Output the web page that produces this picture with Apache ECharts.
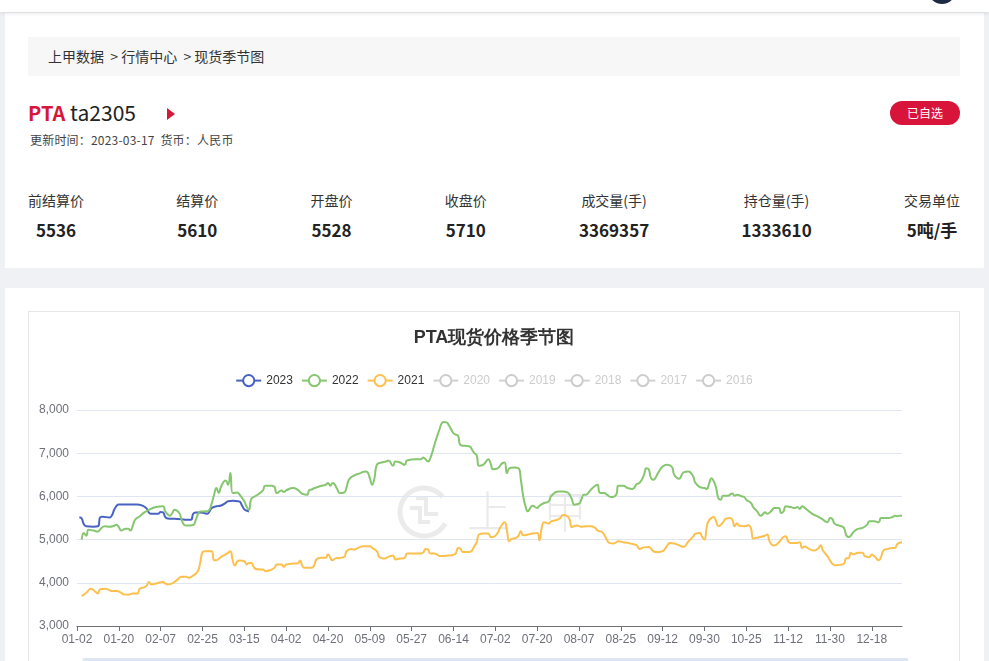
<!DOCTYPE html>
<html>
<head>
<meta charset="utf-8">
<script src="https://cdn.jsdelivr.net/npm/echarts@6/dist/echarts.min.js"></script>
<style>
  html, body { margin: 0; padding: 0; }
  body {
    width: 989px; height: 661px; overflow: hidden; position: relative;
    background: #f0f1f5; font-family: "Noto Sans CJK SC", "Noto Sans", sans-serif; color: #333;
  }
  .topbar { position: absolute; left: 0; top: 0; width: 989px; height: 12px; background: #fff; box-shadow: 0 1px 4px rgba(0,0,0,0.12); z-index: 2; overflow: hidden; }
  .avatar { position: absolute; left: 928px; top: -24px; width: 28px; height: 28px; border-radius: 50%; background: #1d2a44; }
  .card { position: absolute; left: 5px; width: 979px; background: #fff; }
  .card1 { top: 13px; height: 255px; }
  .card2 { top: 288px; height: 400px; }
  .crumb { position: absolute; left: 23px; top: 24px; width: 932px; height: 39px; background: #f7f7f7; font-size: 14px; line-height: 39px; color: #333; }
  .crumb span { margin-left: 20px; }
  .name { position: absolute; left: 23px; top: 85px; font-size: 21px; line-height: 28px; color: #222; }
  .name b { color: #d6173a; font-weight: 700; font-size: 20px; }
  .tri { position: absolute; left: 162px; top: 95px; width: 0; height: 0; border-top: 6px solid transparent; border-bottom: 6px solid transparent; border-left: 8px solid #d6173a; }
  .btn { position: absolute; left: 885px; top: 88px; width: 70px; height: 24px; border-radius: 12px; background: #d9143b; color: #fff; font-size: 12px; line-height: 24px; text-align: center; }
  .upd { position: absolute; left: 25px; top: 118px; font-size: 12px; color: #444; line-height: 18px; letter-spacing: 0.2px; }
  .stats { position: absolute; left: 23px; top: 177px; width: 932px; display: flex; justify-content: space-between; }
  .stat { text-align: center; }
  .stat .l { font-size: 14px; color: #333; line-height: 20px; }
  .stat .v { font-size: 17px; font-weight: 700; color: #222; line-height: 22px; margin-top: 9px; }
  .box { position: absolute; left: 23px; top: 23px; width: 930px; height: 400px; border: 1px solid #e6e6e6; }
  #chart { position: absolute; left: 0; top: 0; width: 930px; height: 400px; }
</style>
</head>
<body>
<div class="topbar"><div class="avatar"></div></div>
<div class="card card1">
  <div class="crumb"><span>上甲数据 &nbsp;&gt; 行情中心 &nbsp;&gt; 现货季节图</span></div>
  <div class="name"><b>PTA</b> ta2305</div>
  <div class="tri"></div>
  <div class="btn">已自选</div>
  <div class="upd">更新时间：2023-03-17 &nbsp;货币：人民币</div>
  <div class="stats">
    <div class="stat"><div class="l">前结算价</div><div class="v">5536</div></div>
    <div class="stat"><div class="l">结算价</div><div class="v">5610</div></div>
    <div class="stat"><div class="l">开盘价</div><div class="v">5528</div></div>
    <div class="stat"><div class="l">收盘价</div><div class="v">5710</div></div>
    <div class="stat"><div class="l">成交量(手)</div><div class="v">3369357</div></div>
    <div class="stat"><div class="l">持仓量(手)</div><div class="v">1333610</div></div>
    <div class="stat"><div class="l">交易单位</div><div class="v">5吨/手</div></div>
  </div>
</div>
<div class="card card2">
  <div class="box"><div id="chart"></div></div>
</div>

<script>
// x axis: calendar days (MM-DD), without the days that no year traded on
const monthDays = [31, 28, 31, 30, 31, 30, 31, 31, 30, 31, 30, 31]
const skipDays = ['01-01', '05-01', '10-01', '10-02', '10-03', '10-04', '10-05', '10-06', '10-07']
const categories = []
monthDays.forEach((n, m) => {
  for (let d = 1; d <= n; d++) {
    const s = String(m + 1).padStart(2, '0') + '-' + String(d).padStart(2, '0')
    if (!skipDays.includes(s)) categories.push(s)
  }
})

const years = ['2023', '2022', '2021', '2020', '2019', '2018', '2017', '2016']
const hiddenYears = ['2020', '2019', '2018', '2017', '2016']

const dates2023 = ['01-03','01-04','01-05','01-06','01-09','01-11','01-12','01-13','01-16','01-17','01-18','01-19','01-20','01-28','01-30','01-31','02-01','02-02','02-03','02-06','02-07','02-08','02-09','02-10','02-13','02-16','02-18','02-20','02-21','02-22','02-24','02-26','02-27','03-01','03-03','03-05','03-07','03-08','03-10','03-12','03-13','03-14','03-15','03-16','03-17']
const vals2023 = [5520,5490,5350,5310,5300,5310,5520,5530,5510,5560,5690,5780,5810,5810,5790,5760,5720,5620,5600,5600,5640,5630,5520,5490,5480,5470,5460,5460,5600,5630,5630,5610,5600,5730,5770,5790,5850,5890,5900,5890,5880,5790,5700,5670,5650]

const dates2022 = ['01-04','01-05','01-06','01-07','01-09','01-11','01-12','01-14','01-16','01-18','01-19','01-20','01-21','01-23','01-24','01-25','01-26','01-27','01-29','01-31','02-03','02-05','02-08','02-09','02-11','02-12','02-13','02-15','02-16','02-17','02-18','02-21','02-22','02-23','02-24','02-27','02-28','03-01','03-02','03-03','03-04','03-05','03-07','03-08','03-09','03-10','03-12','03-13','03-15','03-16','03-17','03-18','03-20','03-21','03-23','03-24','03-27','03-28','03-29','03-31','04-01','04-02','04-05','04-07','04-09','04-11','04-12','04-13','04-14','04-17','04-19','04-20','04-21','04-22','04-24','04-25','04-27','04-28','04-29','05-02','05-05','05-07','05-08','05-09','05-10','05-11','05-12','05-14','05-16','05-17','05-19','05-20','05-22','05-24','05-25','05-29','05-31','06-01','06-03','06-04','06-06','06-07','06-08','06-09','06-10','06-11','06-12','06-14','06-15','06-16','06-17','06-19','06-21','06-22','06-23','06-24','06-25','06-27','06-29','06-30','07-01','07-03','07-05','07-06','07-07','07-08','07-10','07-12','07-13','07-14','07-15','07-16','07-17','07-18','07-20','07-21','07-23','07-25','07-26','07-29','07-31','08-02','08-03','08-04','08-05','08-07','08-08','08-09','08-10','08-12','08-14','08-15','08-16','08-18','08-19','08-21','08-23','08-24','08-26','08-28','08-30','09-01','09-02','09-04','09-05','09-06','09-07','09-08','09-10','09-12','09-14','09-16','09-17','09-19','09-21','09-23','09-25','09-26','09-28','09-30','10-08','10-09','10-10','10-11','10-12','10-13','10-14','10-15','10-17','10-19','10-20','10-21','10-23','10-24','10-25','10-27','10-28','10-30','10-31','11-01','11-02','11-03','11-05','11-06','11-08','11-09','11-10','11-11','11-13','11-15','11-16','11-17','11-18','11-19','11-21','11-23','11-24','11-27','11-28','11-29','11-30','12-01','12-02','12-04','12-06','12-07','12-08','12-09','12-10','12-12','12-14','12-16','12-17','12-19','12-21','12-22','12-25','12-27','12-28','12-29','12-30','12-31']
const vals2022 = [5000,5150,5090,5230,5210,5185,5240,5310,5295,5320,5345,5290,5210,5250,5250,5210,5320,5460,5540,5630,5716,5754,5770,5650,5554,5616,5693,5616,5462,5347,5325,5340,5440,5580,5650,5654,5690,5847,6039,6193,6077,6231,6370,6270,6540,6077,6090,6040,5885,5760,5693,5939,6016,6050,6139,6247,6247,6220,6077,6139,6100,6139,6193,6150,6060,6039,6150,6160,6190,6240,6270,6308,6247,6308,6170,6077,6090,6216,6385,6477,6540,6577,6560,6423,6270,6423,6731,6785,6808,6831,6708,6808,6785,6731,6831,6862,6862,6900,6808,6880,7231,7400,7550,7700,7723,7715,7650,7462,7430,7400,7192,7170,7155,7080,7000,6950,6708,6740,6862,6760,6630,6650,6770,6785,6539,6650,6670,6650,6385,6000,5770,5654,5730,5785,5730,5785,5847,5885,6000,6116,6116,6093,6039,5924,5808,5830,5924,6039,6039,6150,6247,6270,6085,6077,6039,5985,6039,6247,6247,6193,6170,6293,6308,6500,6654,6630,6423,6385,6540,6692,6731,6680,6500,6408,6554,6577,6477,6320,6216,6193,6170,6300,6420,6350,6200,5960,5924,6016,6016,6070,6016,6039,6000,5990,5924,5847,5754,5631,5554,5577,5631,5600,5677,5731,5731,5616,5650,5770,5754,5731,5754,5708,5770,5740,5654,5577,5554,5462,5424,5400,5500,5480,5370,5324,5270,5100,5062,5090,5170,5247,5270,5347,5424,5424,5400,5500,5500,5524,5554,5540,5554,5550]

const dates2021 = ['01-04','01-06','01-08','01-10','01-11','01-12','01-14','01-16','01-17','01-19','01-21','01-22','01-24','01-26','01-28','01-29','01-31','02-01','02-02','02-03','02-05','02-08','02-09','02-10','02-12','02-14','02-16','02-18','02-19','02-21','02-23','02-24','02-25','02-26','02-28','03-01','03-02','03-03','03-05','03-08','03-09','03-10','03-11','03-12','03-13','03-15','03-16','03-17','03-18','03-19','03-20','03-22','03-23','03-24','03-26','03-28','03-29','03-31','04-01','04-02','04-04','04-07','04-08','04-09','04-10','04-13','04-14','04-15','04-17','04-19','04-20','04-22','04-23','04-25','04-27','04-28','04-30','05-02','05-04','05-06','05-09','05-10','05-12','05-13','05-14','05-15','05-17','05-19','05-20','05-22','05-24','05-25','05-27','05-29','05-31','06-01','06-02','06-03','06-04','06-06','06-08','06-10','06-12','06-14','06-15','06-16','06-17','06-18','06-21','06-23','06-24','06-25','06-27','06-29','06-30','07-01','07-03','07-04','07-06','07-07','07-08','07-09','07-11','07-12','07-13','07-14','07-16','07-18','07-20','07-21','07-22','07-23','07-25','07-26','07-28','07-30','07-31','08-02','08-03','08-04','08-06','08-08','08-10','08-12','08-14','08-15','08-17','08-18','08-19','08-20','08-22','08-24','08-26','08-28','08-31','09-01','09-02','09-04','09-06','09-08','09-10','09-12','09-14','09-15','09-17','09-20','09-21','09-23','09-25','09-26','09-28','09-29','09-30','10-08','10-09','10-11','10-12','10-13','10-15','10-16','10-18','10-19','10-20','10-21','10-22','10-24','10-26','10-27','10-28','10-29','10-31','11-02','11-03','11-04','11-05','11-06','11-08','11-10','11-11','11-12','11-13','11-16','11-17','11-18','11-19','11-21','11-23','11-25','11-26','11-27','11-29','11-30','12-02','12-04','12-06','12-07','12-08','12-09','12-10','12-12','12-14','12-15','12-17','12-18','12-19','12-21','12-22','12-23','12-25','12-27','12-28','12-29','12-31']
const vals2021 = [3693,3770,3862,3790,3755,3850,3862,3830,3810,3810,3770,3732,3725,3750,3750,3862,3900,3935,4016,3962,3985,4016,3985,3962,3985,4062,4140,4140,4116,4170,4270,4462,4708,4731,4731,4731,4523,4523,4600,4693,4731,4523,4400,4500,4516,4500,4424,4460,4460,4370,4320,4308,4308,4270,4290,4347,4424,4424,4370,4424,4440,4450,4516,4390,4347,4347,4400,4539,4577,4577,4654,4520,4560,4577,4600,4731,4785,4770,4808,4846,4846,4808,4731,4600,4577,4560,4600,4630,4540,4560,4577,4680,4680,4680,4680,4700,4785,4770,4680,4680,4623,4623,4630,4650,4680,4808,4790,4715,4715,4846,4940,5116,5140,5140,5062,5062,5154,5270,5400,5200,4962,5016,5040,5090,5193,5100,5116,5140,5154,4985,5280,5400,5370,5424,5447,5500,5570,5540,5460,5290,5324,5300,5310,5310,5270,5210,5170,5100,5000,4924,4910,4962,4940,4924,4885,4860,4785,4820,4830,4731,4710,4731,4862,4924,4910,4846,4831,4950,5062,5130,5154,5062,5000,5300,5450,5524,5424,5310,5400,5480,5500,5460,5310,5380,5320,5310,5330,5260,5020,5040,5060,5090,5116,4960,4880,4862,4940,5060,5077,4960,4920,4924,4940,4808,4840,4785,4746,4800,4870,4746,4610,4520,4408,4415,4440,4570,4570,4693,4660,4693,4693,4616,4600,4654,4620,4523,4600,4746,4785,4808,4808,4900,4939]

const yTicks = [3000, 4000, 5000, 6000, 7000, 8000]
const colors = ['#4762c3', '#86c66f', '#fcc04f', '#ee6666', '#73c0de', '#3ba272', '#fc8452', '#9a60b4']

const pair = (ds, vs) => ds.map((d, i) => [d, vs[i]])
const seriesData = {
  '2023': pair(dates2023, vals2023),
  '2022': pair(dates2022, vals2022),
  '2021': pair(dates2021, vals2021)
}

const selected = {}
hiddenYears.forEach(y => { selected[y] = false })

const mark = '#ebebeb'
const chart = echarts.init(document.getElementById('chart'))
chart.setOption({
  color: colors,
  title: {
    text: 'PTA现货价格季节图',
    left: 'center',
    top: 12,
    textStyle: { fontSize: 18, fontWeight: 'bold', color: '#333' }
  },
  legend: {
    top: 57,
    left: 'center',
    data: years,
    selected,
    textStyle: { fontSize: 12, color: '#333' },
    inactiveColor: '#ccc'
  },
  graphic: [
    { type: 'arc', x: 395, y: 200, shape: { r: 24, startAngle: 0.5, endAngle: 5.6 }, style: { fill: 'none', stroke: mark, lineWidth: 5 }, z: -1 },
    { type: 'polyline', x: 395, y: 200, shape: { points: [[-14, -4], [-4, -4], [-4, 10], [6, 10]] }, style: { fill: 'none', stroke: mark, lineWidth: 4 }, z: -1 },
    { type: 'polyline', x: 395, y: 200, shape: { points: [[-8, -14], [2, -14], [2, 2], [14, 2]] }, style: { fill: 'none', stroke: mark, lineWidth: 4 }, z: -1 },
    { type: 'text', left: 438, top: 177, style: { text: '上', fontSize: 44, fill: mark, fontFamily: 'Noto Sans CJK SC', fontWeight: 300 }, z: -1 },
    { type: 'text', left: 514, top: 177, style: { text: '甲', fontSize: 44, fill: mark, fontFamily: 'Noto Sans CJK SC', fontWeight: 300 }, z: -1 }
  ],
  grid: { left: 48, top: 98, width: 825, height: 216 },
  xAxis: {
    type: 'category',
    data: categories,
    boundaryGap: false,
    axisLine: { lineStyle: { color: '#6e7079' } },
    axisTick: { interval: 17 },
    axisLabel: { interval: 17, color: '#6e7079', fontSize: 12 }
  },
  yAxis: {
    type: 'value',
    min: yTicks[0],
    max: yTicks[yTicks.length - 1],
    interval: 1000,
    axisLabel: { color: '#6e7079', fontSize: 12 },
    splitLine: { lineStyle: { color: '#e0e6f1' } }
  },
  dataZoom: [{
    type: 'slider', left: 51, right: 53, top: 346, height: 30,
    showDetail: false,
    fillerColor: 'rgba(210,222,240,0.5)',
    borderColor: '#dde5f3',
    handleSize: 0,
    moveHandleSize: 6,
    moveHandleIcon: 'none',
    moveHandleStyle: { color: '#dde5f3', opacity: 1 },
    emphasis: { moveHandleStyle: { color: '#dde5f3' } }
  }],
  series: years.map(y => ({
    name: y,
    type: 'line',
    data: seriesData[y] || [],
    smooth: true,
    showSymbol: false,
    symbol: 'emptyCircle',
    lineStyle: { width: 2 }
  }))
})
</script>
</body>
</html>
